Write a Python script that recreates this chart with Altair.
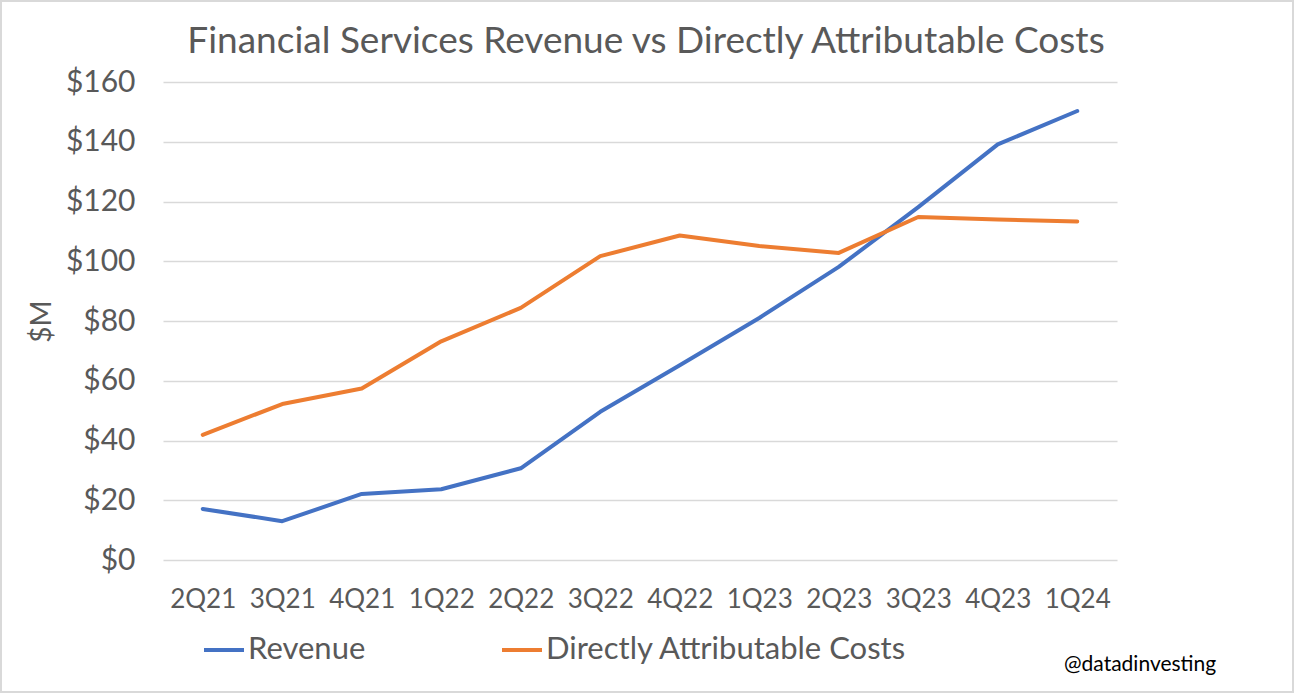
import altair as alt
import pandas as pd

# Quarterly figures, $M
quarters = ["2Q21", "3Q21", "4Q21", "1Q22", "2Q22", "3Q22",
            "4Q22", "1Q23", "2Q23", "3Q23", "4Q23", "1Q24"]
revenue = [17.1, 13.0, 22.1, 23.7, 30.7, 49.6, 65.2, 81.0, 98.1, 118.1, 139.1, 150.3]
costs = [41.9, 52.2, 57.4, 73.2, 84.4, 101.7, 108.6, 105.1, 102.8, 114.8, 114.0, 113.3]

series_names = ["Revenue", "Directly Attributable Costs"]
series_colors = ["#4472C4", "#ED7D31"]

rows = []
for name, values in zip(series_names, [revenue, costs]):
    for q, v in zip(quarters, values):
        rows.append({"quarter": q, "value": v, "series": name})
df = pd.DataFrame(rows)

FONT = "Lato"
GREY = "#595959"
GRID = "#D9D9D9"

lines = alt.Chart(df).mark_line(strokeWidth=4, strokeCap="round", strokeJoin="round").encode(
    x=alt.X("quarter:N", sort=quarters,
            scale=alt.Scale(type="point", padding=0.5),
            axis=alt.Axis(title=None, labelAngle=0, ticks=False, domain=False, grid=False,
                          labelFontSize=26, labelColor=GREY, labelFont=FONT,
                          labelPadding=26)),
    y=alt.Y("value:Q", scale=alt.Scale(domain=[0, 160], nice=False),
            axis=alt.Axis(title="$M", values=list(range(0, 161, 20)), format="$,.0f",
                          ticks=False, domain=False, grid=True, gridColor=GRID, gridWidth=1.5,
                          labelFontSize=30, labelColor=GREY, labelFont=FONT, labelPadding=28,
                          titleFontSize=28, titleColor=GREY, titleFont=FONT,
                          titleFontWeight="normal", titlePadding=9)),
    color=alt.Color("series:N",
                    scale=alt.Scale(domain=series_names, range=series_colors),
                    legend=alt.Legend(title=None, orient="none", legendX=39, legendY=546,
                                      direction="horizontal", symbolType="stroke",
                                      symbolSize=1600, symbolStrokeWidth=4,
                                      labelFontSize=31, labelColor=GREY, labelFont=FONT,
                                      labelOffset=2, labelLimit=600, columnPadding=128)),
)

# Outer frame of the chart
frame = alt.Chart(pd.DataFrame({"k": [0]})).mark_rect(
    fill=None, stroke=GRID, strokeWidth=2
).encode(x=alt.value(-162), x2=alt.value(1130), y=alt.value(-81), y2=alt.value(610))

# Handle in the lower right corner
handle = alt.Chart(pd.DataFrame({"label": ["@datadinvesting"]})).mark_text(
    align="left", baseline="middle", fontSize=21, font=FONT, color="#000000"
).encode(x=alt.value(901), y=alt.value(583), text="label:N")

chart = alt.layer(frame, lines, handle).properties(
    width=954,
    height=478,
    title=alt.TitleParams("Financial Services Revenue vs Directly Attributable Costs",
                          fontSize=37, color=GREY, font=FONT, fontWeight="normal",
                          anchor="middle", baseline="alphabetic", offset=-90, dx=6),
    autosize=alt.AutoSizeParams(type="none"),
    padding={"left": 163, "top": 82, "right": 177, "bottom": 133},
    background="white",
).configure_view(stroke="transparent", strokeWidth=0)

chart.save("out.html", embed_options={"renderer": "svg", "actions": False})
